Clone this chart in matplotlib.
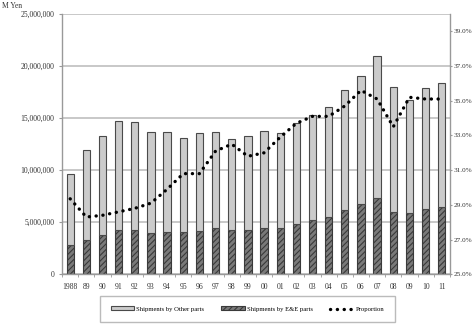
import matplotlib
matplotlib.use("Agg")
import matplotlib.pyplot as plt
import numpy as np

plt.rcParams['font.family'] = ['Liberation Serif', 'DejaVu Serif']
plt.rcParams['hatch.color'] = '#2e2e2e'
plt.rcParams['hatch.linewidth'] = 0.8

# data (millions of yen / percent)
years = ['1988', '89', '90', '91', '92', '93', '94', '95', '96', '97', '98', '99',
         '00', '01', '02', '03', '04', '05', '06', '07', '08', '09', '10', '11']
ee_parts = [2.83, 3.34, 3.79, 4.27, 4.27, 4.01, 4.08, 4.05, 4.20, 4.40, 4.22, 4.27,
            4.40, 4.47, 4.85, 5.24, 5.46, 6.13, 6.78, 7.36, 6.00, 5.91, 6.27, 6.46]
other_parts = [6.81, 8.58, 9.52, 10.48, 10.35, 9.68, 9.55, 9.00, 9.40, 9.29, 8.73, 9.00,
               9.39, 9.13, 9.71, 10.06, 10.64, 11.55, 12.28, 13.62, 12.00, 10.80, 11.60, 11.89]
proportion = [29.35, 28.3, 28.4, 28.6, 28.8, 29.1, 29.9, 30.8, 30.8, 32.1, 32.5, 31.8,
              32.0, 32.9, 33.7, 34.1, 34.1, 34.7, 35.6, 35.1, 33.5, 35.2, 35.1, 35.1]

ee = np.array(ee_parts) * 1e6
other = np.array(other_parts) * 1e6
x = np.arange(len(years))

fig = plt.figure(figsize=(4.74, 3.25), dpi=100)
ax = fig.add_axes([0.131, 0.156, 0.818, 0.801])

ax.set_axisbelow(True)
ax.yaxis.grid(True, color='#c4c4c4', linewidth=1.3)

w = 0.45
b1 = ax.bar(x, ee, w, facecolor='#7a7a7a', edgecolor='#3a3a3a', hatch='//////',
            linewidth=0.8, label='Shipments by E&E parts')
b2 = ax.bar(x, other, w, bottom=ee, facecolor='#cbcbcb', edgecolor='#4a4a4a',
            linewidth=0.8, label='Shipments by Other parts')

ax.set_xlim(-0.5, len(years) - 0.5)
ax.set_ylim(0, 25e6)
ax.set_yticks(np.arange(0, 25e6 + 1, 5e6))
ax.set_yticklabels(['0' if v == 0 else '{:,}'.format(int(v)) for v in np.arange(0, 25e6 + 1, 5e6)])
ax.set_xticks(x)
ax.set_xticklabels(years)
ax.set_xticks(np.arange(-0.5, len(years), 1), minor=True)
ax.tick_params(axis='x', which='major', length=0, labelsize=5.5, pad=6, colors='#333333')
ax.tick_params(axis='x', which='minor', length=2, color='#999999')
ax.tick_params(axis='y', length=2, color='#999999', labelsize=5.5, labelcolor='#333333')

for s in ['left', 'bottom', 'right']:
    ax.spines[s].set_color('#999999')
    ax.spines[s].set_linewidth(1.0)
ax.spines['top'].set_visible(False)

ax2 = ax.twinx()
ax2.set_ylim(25, 40)
ax2.set_yticks(np.arange(25, 40, 2))
ax2.set_yticklabels(['{:.1f}%'.format(v) for v in np.arange(25, 40, 2)])
ax2.tick_params(axis='y', length=1.5, pad=1, color='#999999', labelsize=5.2, labelcolor='#333333')
for s in ['left', 'bottom', 'right', 'top']:
    ax2.spines[s].set_visible(False)
ln, = ax2.plot(x, proportion, color='black', linewidth=2.4,
               linestyle=(0, (0.05, 2.0)), dash_capstyle='round', label='Proportion')

fig.text(0.004, 0.995, 'M Yen', fontsize=5.5, color='#333333', ha='left', va='top')

leg = fig.legend([b2, b1, ln], ['Shipments by Other parts', 'Shipments by E&E parts', 'Proportion'],
                 loc='center', bbox_to_anchor=(0.522, 0.049), ncol=3, fontsize=4.8,
                 frameon=True, fancybox=False, handlelength=3.5, handleheight=0.5,
                 columnspacing=2.6, borderpad=1.6, handletextpad=0.3)
leg.get_frame().set_edgecolor('#aaaaaa')
leg.get_frame().set_linewidth(1.0)

fig.savefig('out.png', dpi=100)
